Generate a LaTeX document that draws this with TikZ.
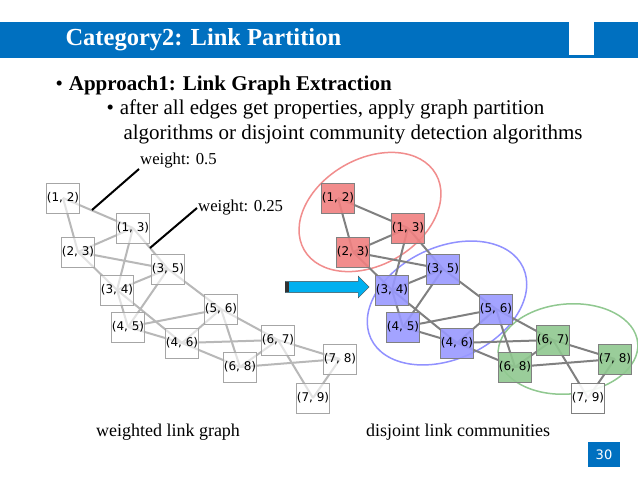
\documentclass[tikz,border=0pt]{standalone}
\usepackage{fontspec}
\setmainfont{Liberation Serif}
\newfontfamily\nodefont{DejaVu Sans}
\usetikzlibrary{arrows.meta,shapes.arrows}
\definecolor{barblue}{RGB}{0,112,192}
\definecolor{redc}{RGB}{240,128,128}
\definecolor{bluec}{RGB}{153,153,255}
\definecolor{greenc}{RGB}{144,200,144}
\definecolor{arrc}{RGB}{0,176,240}
\begin{document}
\begin{tikzpicture}[x=1pt,y=-1pt,
  nd/.style={draw=gray!70,line width=0.8pt,minimum size=30pt,inner sep=0pt,font=\nodefont\fontsize{12}{12}\selectfont},
  le/.style={draw=black!28,line width=2pt},
  re/.style={draw=black!50,line width=2pt}]
\useasboundingbox (0,0) rectangle (638,478);
\fill[white] (0,0) rectangle (638,478);
\fill[barblue] (0,22) rectangle (638,58);
\fill[white] (569,22) rectangle (594,55);
\node[anchor=west,text=white,font=\bfseries\fontsize{24.5}{24.5}\selectfont] (title) at (62,40) {Category2: Link Partition};
\node[anchor=west,font=\fontsize{21}{21}\selectfont] (b1) at (52,85) {\textbullet\hspace{6pt}\textbf{Approach1: Link Graph Extraction}};
\node[anchor=north west,align=left,font=\fontsize{21}{25}\selectfont] (b2) at (103,96) {\textbullet\hspace{6pt}after all edges get properties, apply graph partition\\\hspace{17pt}algorithms or disjoint community detection algorithms};
% ellipses
\draw[redc!90,line width=1.5pt] (370,212) ellipse[x radius=76,y radius=53,rotate=30];
\draw[bluec!95!blue,line width=1.5pt] (447,303) ellipse[x radius=84,y radius=56,rotate=25];
\draw[greenc,line width=1.5pt] (568,349) ellipse[x radius=70,y radius=45,rotate=5];
% left graph
\foreach \n/\x/\y in {12/63/198,13/133/228,23/78/252,35/168/269,34/117/290,56/221/309,45/128/327,46/182/343,67/278/340,68/240/367,78/340/359,79/313/398}{
  \coordinate (L\n) at (\x,\y);
  \coordinate (R\n) at (\x+275,\y);
}
\foreach \a/\b in {12/13,12/23,13/23,13/34,13/35,23/35,23/34,34/35,34/45,34/46,35/45,35/56,45/56,45/46,46/56,46/67,46/68,56/67,56/68,67/68,67/78,68/78,67/79,78/79}{
  \draw[le] (L\a) -- (L\b);
  \draw[re] (R\a) -- (R\b);
}
\foreach \n/\t in {12/{(1, 2)},13/{(1, 3)},23/{(2, 3)},35/{(3, 5)},34/{(3, 4)},56/{(5, 6)},45/{(4, 5)},46/{(4, 6)},67/{(6, 7)},68/{(6, 8)},78/{(7, 8)},79/{(7, 9)}}{
  \node[nd,fill=white,fill opacity=0.6,text opacity=1] (nl\n) at (L\n) {\t};
}
\foreach \n/\t/\c in {12/{(1, 2)}/redc,13/{(1, 3)}/redc,23/{(2, 3)}/redc,35/{(3, 5)}/bluec,34/{(3, 4)}/bluec,56/{(5, 6)}/bluec,45/{(4, 5)}/bluec,46/{(4, 6)}/bluec,67/{(6, 7)}/greenc,68/{(6, 8)}/greenc,78/{(7, 8)}/greenc,79/{(7, 9)}/white}{
  \node[nd,fill=\c,draw=black!50,fill opacity=0.9,text opacity=1] (nr\n) at (R\n) {\t};
}
% weight annotations
\coordinate (w1a) at (92,210); \coordinate (w1b) at (139,169);
\coordinate (w2a) at (150,248); \coordinate (w2b) at (197,208);
\draw[line width=2pt] (w1a) -- (w1b);
\draw[line width=2pt] (w2a) -- (w2b);
\node[anchor=south west,inner sep=1pt,font=\fontsize{16.7}{16.7}\selectfont] (wt1) at (w1b) {weight: 0.5};
\node[anchor=west,inner sep=1pt,font=\fontsize{16.7}{16.7}\selectfont] (wt2) at (w2b) {weight: 0.25};
% arrow
\node[single arrow,draw=black!70,fill=arrc,minimum height=84pt,minimum width=22pt,single arrow head extend=3pt,inner sep=3pt,anchor=west] (arr) at (285,287) {};
\fill[black!80] (285,282) rectangle (289,292);
% captions
\node[font=\fontsize{18}{18}\selectfont] (c1) at (168,432) {weighted link graph};
\node[font=\fontsize{18}{18}\selectfont] (c2) at (458,432) {disjoint link communities};
\node[fill=barblue,text=white,minimum width=32pt,minimum height=25pt,font=\nodefont\fontsize{13}{13}\selectfont] (pg) at (604,455) {30};
\end{tikzpicture}
\end{document}
